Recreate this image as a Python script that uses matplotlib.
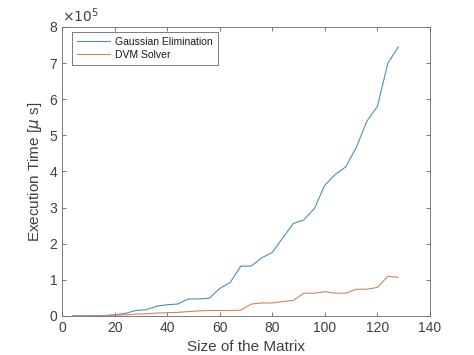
import matplotlib
matplotlib.use("Agg")
import matplotlib.pyplot as plt

plt.rcParams['font.family'] = ['Liberation Sans', 'DejaVu Sans']

sizes = [4, 8, 12, 16, 20, 24, 28, 32, 36, 40, 44, 48, 52, 56, 60, 64,
         68, 72, 76, 80, 84, 88, 92, 96, 100, 104, 108, 112, 116, 120, 124, 128]
gauss = [0.0, 0.002, 0.005, 0.01, 0.03, 0.07, 0.15, 0.17, 0.27, 0.31, 0.33, 0.47,
         0.47, 0.49, 0.76, 0.93, 1.38, 1.38, 1.61, 1.76, 2.16, 2.56, 2.66, 2.97,
         3.62, 3.92, 4.13, 4.67, 5.39, 5.80, 7.0, 7.45]
dvm = [0.0, 0.0, 0.005, 0.01, 0.02, 0.03, 0.05, 0.06, 0.08, 0.09, 0.10, 0.12,
       0.14, 0.15, 0.15, 0.15, 0.16, 0.33, 0.36, 0.36, 0.40, 0.43, 0.63, 0.63,
       0.67, 0.63, 0.63, 0.74, 0.74, 0.79, 1.10, 1.07]

gauss = [v * 1e5 for v in gauss]
dvm = [v * 1e5 for v in dvm]

fig = plt.figure(figsize=(4.74, 3.55), dpi=100)
ax = fig.add_axes([0.131, 0.110, 0.776, 0.814])

ax.plot(sizes, gauss, color=(0.30, 0.56, 0.70), lw=0.8, label="Gaussian Elimination")
ax.plot(sizes, dvm, color=(0.80, 0.52, 0.40), lw=0.8, label="DVM Solver")

ax.set_xlim(0, 140)
ax.set_ylim(0, 8e5)
ax.set_xticks(range(0, 141, 20))
ax.set_yticks([i * 1e5 for i in range(9)])
ax.set_yticklabels([str(i) for i in range(9)])

gray = (0.25, 0.25, 0.25)
for s in ax.spines.values():
    s.set_color((0.4, 0.4, 0.4))
    s.set_linewidth(0.6)
ax.tick_params(direction='in', top=True, right=True, colors=(0.4, 0.4, 0.4),
               labelcolor=gray, labelsize=10, length=3, width=0.6)

ax.set_xlabel("Size of the Matrix", fontsize=11, color=gray)
ax.set_ylabel("Execution Time [$\\mu$ s]", fontsize=11, color=gray)
ax.text(0, 1.008, "$\\times10^5$", transform=ax.transAxes, fontsize=10,
        color=gray, ha='left', va='bottom')

leg = ax.legend(loc='upper left', fontsize=7.5, frameon=True, fancybox=False,
                borderpad=0.5, handlelength=3.1, handletextpad=0.5,
                labelspacing=0.25, borderaxespad=0,
                bbox_to_anchor=(0.027, 0.983))
leg.get_frame().set_edgecolor(gray)
leg.get_frame().set_linewidth(0.6)
for t in leg.get_texts():
    t.set_color((0.1, 0.1, 0.1))

fig.savefig("out.png", dpi=100)
